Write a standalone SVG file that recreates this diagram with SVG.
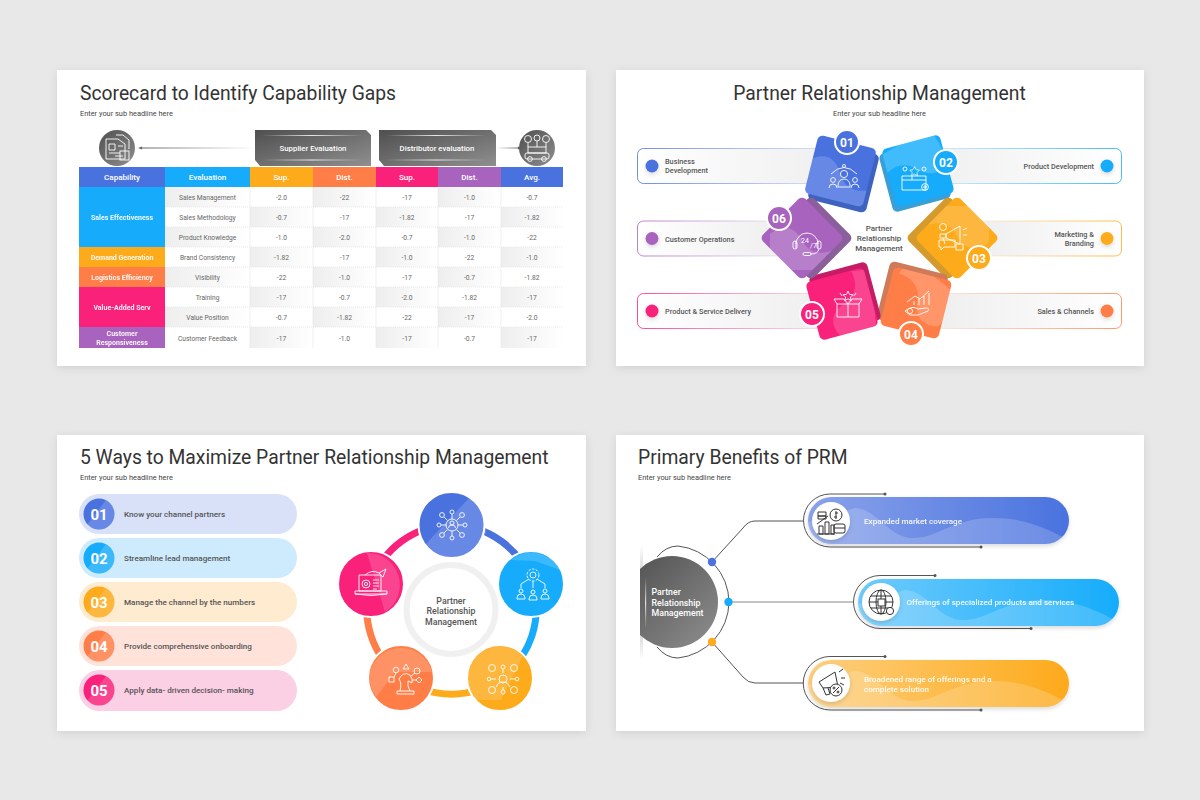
<svg xmlns="http://www.w3.org/2000/svg" width="1200" height="800" viewBox="0 0 1200 800">
<style>
text{font-family:Roboto,"Liberation Sans",sans-serif}
.title{font-size:19.300px;fill:#333}
.sub{font-size:7.400px;fill:#444}
.cell{font-size:6.650px;fill:#666;text-anchor:middle}
.th{font-size:8.100px;font-weight:500;fill:#fff;text-anchor:middle}
.cap{font-size:7.050px;font-weight:700;fill:#fff;text-anchor:middle;opacity:.92}
.lab{font-size:7.300px;font-weight:500;fill:#555}
.mid{font-size:8.800px;font-weight:500;fill:#555;text-anchor:middle}
.num{font-size:12px;font-weight:700;fill:#fff;text-anchor:middle}
.big{font-size:15px;font-weight:700;fill:#fff;text-anchor:middle}
.pl{font-size:8.100px;font-weight:500;fill:#555}
.bt{font-size:8.100px;font-weight:500;fill:#fff;opacity:.92}
.iw{fill:none;stroke:#fff;stroke-width:.9}
.id{fill:none;stroke:#333;stroke-width:1}
.frame{fill:none;stroke:#555;stroke-width:1}
.dotline{stroke:#ddd;stroke-width:.6;stroke-dasharray:1 1}
.wedge{fill:#fff;opacity:.16}
.face{x:-30px;y:-30px;width:60px;height:60px;rx:5px}
.bar{stroke-width:.8}
</style>
<defs>
<filter id="card" x="-5%" y="-5%" width="110%" height="112%"><feDropShadow dx="0" dy="2" stdDeviation="4" flood-color="#000" flood-opacity=".1"/></filter>
<filter id="soft" x="-40%" y="-40%" width="180%" height="190%"><feDropShadow dx="0" dy="2" stdDeviation="2" flood-color="#000" flood-opacity=".15"/></filter>
<linearGradient id="cg"><stop offset="0" stop-color="#eeeeee"/><stop offset="1" stop-color="#fff"/></linearGradient>
<linearGradient id="dark" x1="0" y1="0" x2="1" y2="1"><stop offset="0" stop-color="#4f4f4f"/><stop offset="1" stop-color="#8f8f8f"/></linearGradient>
<linearGradient id="shine"><stop offset="0" stop-color="#fff" stop-opacity="0"/><stop offset=".5" stop-color="#fff" stop-opacity=".85"/><stop offset="1" stop-color="#fff" stop-opacity="0"/></linearGradient>
<linearGradient id="shineV" x1="0" y1="0" x2="0" y2="1"><stop offset="0" stop-color="#fff" stop-opacity="0"/><stop offset=".5" stop-color="#fff" stop-opacity=".8"/><stop offset="1" stop-color="#fff" stop-opacity="0"/></linearGradient>
<linearGradient id="edgeV" x1="0" y1="0" x2="0" y2="1"><stop offset="0" stop-color="#aaa" stop-opacity="0"/><stop offset=".5" stop-color="#aaa"/><stop offset="1" stop-color="#aaa" stop-opacity="0"/></linearGradient>
<linearGradient id="arL"><stop offset="0" stop-color="#666"/><stop offset="1" stop-color="#666" stop-opacity="0"/></linearGradient>
<linearGradient id="arR"><stop offset="0" stop-color="#666" stop-opacity="0"/><stop offset="1" stop-color="#666"/></linearGradient>
<linearGradient id="fL"><stop offset="0" stop-color="#fff"/><stop offset="1" stop-color="#eeeeee"/></linearGradient>
<linearGradient id="fR"><stop offset="0" stop-color="#eeeeee"/><stop offset="1" stop-color="#fff"/></linearGradient>
<linearGradient id="sBlue"><stop offset="0" stop-color="#4a72df"/><stop offset="1" stop-color="#4a72df" stop-opacity=".12"/></linearGradient>
<linearGradient id="sPur"><stop offset="0" stop-color="#a863bf"/><stop offset="1" stop-color="#a863bf" stop-opacity=".12"/></linearGradient>
<linearGradient id="sPink"><stop offset="0" stop-color="#f9217a"/><stop offset="1" stop-color="#f9217a" stop-opacity=".12"/></linearGradient>
<linearGradient id="sSky" x1="1" x2="0"><stop offset="0" stop-color="#16acfb"/><stop offset="1" stop-color="#16acfb" stop-opacity=".12"/></linearGradient>
<linearGradient id="sAmb" x1="1" x2="0"><stop offset="0" stop-color="#fdaa1b"/><stop offset="1" stop-color="#fdaa1b" stop-opacity=".12"/></linearGradient>
<linearGradient id="sOr" x1="1" x2="0"><stop offset="0" stop-color="#ff7e47"/><stop offset="1" stop-color="#ff7e47" stop-opacity=".12"/></linearGradient>
<linearGradient id="pBlue"><stop offset="0" stop-color="#8aa3ea"/><stop offset="1" stop-color="#4a72df"/></linearGradient>
<linearGradient id="pSky"><stop offset="0" stop-color="#6fcbfc"/><stop offset="1" stop-color="#16acfb"/></linearGradient>
<linearGradient id="pAmb"><stop offset="0" stop-color="#fdcf7e"/><stop offset="1" stop-color="#fdaa1b"/></linearGradient>
<clipPath id="sq"><rect x="-30" y="-30" width="60" height="60" rx="5"/></clipPath>
<clipPath id="left"><rect x="640" y="540" width="120" height="125"/></clipPath>
<clipPath id="p1"><rect x="808" y="497" width="261" height="47" rx="23.500"/></clipPath>
<clipPath id="p2"><rect x="858" y="579" width="261" height="47" rx="23.500"/></clipPath>
<clipPath id="p3"><rect x="808" y="660" width="261" height="47" rx="23.500"/></clipPath>
<path id="blob" d="M-32 -4C-20 -14-8-12 0 2C6 14 18 18 32 12V32H-32Z"/>
<path id="wave" d="M47 11C70 12 80 41 105 41C130 41 145 21 185 21C215 21 235 30 255 40L261 47H0V25Z"/>
<g id="i1"><circle r="3.600" cy="-3"/><path d="M-6 8a6 6 0 0 1 12 0v2h-12zM-13 -3Q0 -16 13 -3"/><circle cx="-11" cy="3" r="2.400"/><circle cx="11" cy="3" r="2.400"/><path d="M-15 11a4 4 0 0 1 8 0M7 11a4 4 0 0 1 8 0"/><circle cy="-11" r="1.500"/></g>
<g id="i2"><path d="M-12 -1H12V13H-12ZM-12 3H12M-2 -1V3"/><path d="M-3 -13l2 4 4 .4-3 3 .8 4-3.800-2-3.800 2 .8-4-3-3 4-.4z" transform="translate(3 0) scale(.8)"/><circle cx="-9" cy="-8" r="2"/><circle cx="10" cy="-8" r="2"/><circle cx="11" cy="10" r="3.400"/><path d="M9 10h4M11 8v4"/></g>
<g id="i3"><path d="M-6 -3L8 -11V7L-6 1ZM-6 -3H-12V1H-6ZM-9 1L-7 7"/><circle cx="-9" cy="-10" r="3.500"/><path d="M-13 3H3V10H-8L-11 13V10H-13ZM4 7H11V13H4ZM11 -7L15 -9M11 -2H15"/></g>
<g id="i4"><path d="M-13 9Q-6 3 0 7L8 6Q12 6 10 9L0 13H-8ZM-11 0L-3 -6 2 -3 11 -11M-4 3V-1M1 3V-3M6 3V-6M11 3V-9"/><circle cx="-8" cy="9" r="2.600"/></g>
<g id="i5"><path d="M-11 -1H11V12H-11ZM-11 -1L-14 -6H-4L0 -1 4 -6H14L11 -1M0 -1V12"/><path d="M0 -14l1.500 3.400 3.600.3-2.700 2.400.8 3.600-3.200-1.900-3.200 1.900.8-3.600-2.700-2.400 3.600-.3zM-8 -12l2 3M8 -12l-2 3"/></g>
<g id="i6"><path d="M-11 2a11 11 0 0 1 22 0M-11 -1v7M11 -1v7"/><rect x="-14" y="-1" width="4" height="8" rx="2"/><rect x="10" y="-1" width="4" height="8" rx="2"/><path d="M12 7Q11 12 4 12"/><rect x="-4" y="10.500" width="8" height="3" rx="1.500"/><text x="-6" y="1" style="font-size:7px;fill:#fff;stroke:none">24</text><text x="3" y="6" style="font-size:7px;fill:#fff;stroke:none">/7</text></g>
<g id="n1"><circle r="6"/><circle cy="-2" r="2"/><path d="M-3.500 3a3.500 3 0 0 1 7 0"/><path d="M0 -6V-11M0 6V11M-6 0H-11M6 0H11M-4.500 -4.500L-8 -8M4.500 -4.500L8 -8M-4.500 4.500L-8 8M4.500 4.500L8 8"/><circle cy="-13" r="2"/><circle cy="13" r="2"/><circle cx="-13" r="2"/><circle cx="13" r="2"/><circle cx="-10" cy="-10" r="2.400"/><circle cx="10" cy="-10" r="2.400"/><circle cx="-10" cy="10" r="2.400"/><circle cx="10" cy="10" r="2.400"/></g>
<g id="n2"><circle cy="-10" r="3"/><circle cy="-10" r="6" stroke-dasharray="2.400 1.400"/><path d="M-4 -6L-12 -1V3M4 -6L12 -1V3M0 -4V3"/><circle cx="-12" cy="6" r="2"/><circle cy="7" r="2"/><circle cx="12" cy="6" r="2"/><path d="M-16 13a4 4 0 0 1 8 0v1h-8zM-4 14a4 4 0 0 1 8 0v1h-8zM8 13a4 4 0 0 1 8 0v1h-8z"/></g>
<g id="n3"><circle r="4"/><path d="M-6.500 8a6.500 5 0 0 1 13 0"/><circle cx="-11" cy="-11" r="3.500"/><circle cx="11" cy="-11" r="3.500"/><circle cx="-11" cy="11" r="3.500"/><circle cx="11" cy="11" r="3.500"/><circle cy="-12" r="2"/><circle cy="13" r="2"/><circle cx="-14" r="1.800"/><circle cx="14" r="1.800"/><path d="M0 -10V-6M0 8V11M-12 0H-7M7 0H12"/></g>
<g id="n4"><path d="M-9 14H8V11H-9ZM-6 11Q-4 3 -7 -1Q-3 -9 4 -5Q7 -1 6 3L2 1Q1 6 4 11"/><path d="M0 -16l3 5H-3Z"/><rect x="-17" y="-3" width="5" height="5"/><circle cx="-10" cy="-10" r="2.800"/><circle cx="11" cy="-9" r="3"/><path d="M13 -3l3 3-3 3-3-3zM-12 -3L-10 -7M9 -7L5 -4M10 0H6"/></g>
<g id="n5"><path d="M-13 -9H9V7H-13ZM-17 7H15V10H-17ZM-17 10Q-1 13 15 10"/><circle cx="-6" cy="0" r="4"/><circle cx="-6" cy="0" r="1.600"/><path d="M1 -4H7M1 -1H7M1 2H7M1 5H5M-7 -9Q0 -15 7 -11M7 -11L14 -15 11 -7Z"/></g>
<g id="d1"><path d="M-13 -9H-5V-5H-13ZM-13 -5H-5V-2H-13ZM-12 13V5H-8V13ZM-6 13V1H-2V13ZM0 13V4H3V13ZM-14 13H4M-14 3L-3 -5"/><circle cx="5" cy="-6" r="6"/><path d="M4 -8H7M3 -4H6M5 -10V-2"/><rect x="3" y="3" width="11" height="9" rx="2"/><path d="M3 7H14"/></g>
<g id="d2"><circle r="12"/><ellipse rx="5" ry="12"/><path d="M-12 0H12M-10 -6H10M-10 6H10M0 -12V12"/><rect x="-3" y="-3" width="7" height="7" fill="#fff"/><circle cx="9" cy="9" r="3.600" fill="#fff"/></g>
<g id="d3"><path d="M-12 -1L4 -11 7 4-8 5ZM-8 5L-5 12-1 11-3 5"/><path d="M8 -11L12 -14M10 -5H14M9 0L13 2"/><circle cx="5" cy="7" r="6" fill="#fff"/><path d="M2 10L8 4"/><circle cx="3" cy="5" r="1"/><circle cx="7" cy="9" r="1"/></g>
<g id="c1"><path d="M-11 -9H1L8 -4V11H-11ZM-8 -4H-2V2H-8ZM-8 5H3M1 -2H6M-2 8H6"/><path d="M-1 -13H6L12 -8V1"/><rect x="3" y="3" width="9" height="9"/></g>
<g id="c2"><circle cx="-9" cy="-9" r="3.500"/><circle cx="9" cy="-9" r="3.500"/><circle cy="-10" r="3"/><path d="M-9 -5V-1M9 -5V-1M0 -7V-1"/><rect x="-9" y="-1" width="18" height="6"/><rect x="-12" y="5" width="24" height="6" rx="2"/><circle cx="-7" cy="11" r="2.400"/><circle cx="7" cy="11" r="2.400"/></g>
</defs>
<rect width="1200" height="800" fill="#e9e8e9"/>

<g id="card1">
<rect x="57" y="70" width="529" height="296" fill="#fff" filter="url(#card)"/>
<text class="title" x="80" y="100">Scorecard to Identify Capability Gaps</text>
<text class="sub" x="80" y="116">Enter your sub headline here</text>
</g>
<g id="connectors-top">
<rect x="142" y="147.500" width="113" height="1" fill="url(#arL)"/><path d="M138 148l4-1.500v3z" fill="#666"/>
<rect x="496" y="147.500" width="23" height="1" fill="url(#arR)"/><path d="M522 148l-4-1.500v3z" fill="#555"/>
</g>
<g id="hd-left"><circle cx="117" cy="148" r="18" fill="url(#dark)"/><use href="#c1" x="117" y="148" class="iw"/></g>
<g id="hd-right"><circle cx="537" cy="148" r="18" fill="url(#dark)"/><use href="#c2" x="537" y="148" class="iw"/></g>
<g id="supplier"><path d="M255 130H366L371 135V166H260L255 160Z" fill="url(#dark)"/><rect x="262" y="135" width="100" height="1" fill="url(#shine)"/><rect x="262" y="159.500" width="100" height="1" fill="url(#shine)"/><text x="313" y="151" class="th" style="font-size:7.800px">Supplier Evaluation</text></g>
<g id="distributor"><path d="M379 130H491L496 135V166H384L379 160Z" fill="url(#dark)"/><rect x="386" y="135" width="100" height="1" fill="url(#shine)"/><rect x="386" y="159.500" width="100" height="1" fill="url(#shine)"/><text x="437" y="151" class="th" style="font-size:7.800px">Distributor evaluation</text></g>

<g id="table">
<rect x="79" y="167" width="86" height="20" fill="#4a72df"/><rect x="165" y="167" width="85" height="20" fill="#16acfb"/><rect x="250" y="167" width="63" height="20" fill="#fdaa1b"/><rect x="313" y="167" width="63" height="20" fill="#ff7e47"/><rect x="376" y="167" width="62" height="20" fill="#f9217a"/><rect x="438" y="167" width="63" height="20" fill="#a863bf"/><rect x="501" y="167" width="62" height="20" fill="#4a72df"/>
<text class="th" x="122" y="180">Capability</text><text class="th" x="207.500" y="180">Evaluation</text><text class="th" x="281.500" y="180">Sup.</text><text class="th" x="344.500" y="180">Dist.</text><text class="th" x="407" y="180">Sup.</text><text class="th" x="469.500" y="180">Dist.</text><text class="th" x="532" y="180">Avg.</text>
<g fill="url(#cg)">
<rect x="165" y="187" width="85" height="20"/><rect x="313" y="187" width="63" height="20"/><rect x="438" y="187" width="63" height="20"/>
<rect x="250" y="207" width="63" height="20"/><rect x="376" y="207" width="62" height="20"/><rect x="501" y="207" width="62" height="20"/>
<rect x="165" y="227" width="85" height="20"/><rect x="313" y="227" width="63" height="20"/><rect x="438" y="227" width="63" height="20"/>
<rect x="250" y="247" width="63" height="20"/><rect x="376" y="247" width="62" height="20"/><rect x="501" y="247" width="62" height="20"/>
<rect x="165" y="267" width="85" height="20"/><rect x="313" y="267" width="63" height="20"/><rect x="438" y="267" width="63" height="20"/>
<rect x="250" y="287" width="63" height="20"/><rect x="376" y="287" width="62" height="20"/><rect x="501" y="287" width="62" height="20"/>
<rect x="165" y="307" width="85" height="20"/><rect x="313" y="307" width="63" height="20"/><rect x="438" y="307" width="63" height="20"/>
<rect x="250" y="327" width="63" height="21"/><rect x="376" y="327" width="62" height="21"/><rect x="501" y="327" width="62" height="21"/>
</g>
<g class="dotline"><path d="M165 207H563M165 227H563M165 247H563M165 267H563M165 287H563M165 307H563M165 327H563"/></g>
<path d="M250 187V348M313 187V348M376 187V348M438 187V348M501 187V348" stroke="#e4e4e4" stroke-width=".6" fill="none"/>
<rect x="79" y="187" width="86" height="60" fill="#16acfb"/><rect x="79" y="247" width="86" height="20" fill="#fdaa1b"/><rect x="79" y="267" width="86" height="20" fill="#ff7e47"/><rect x="79" y="287" width="86" height="40" fill="#f9217a"/><rect x="79" y="327" width="86" height="21" fill="#a863bf"/>
<text class="cap" x="122" y="219.500">Sales Effectiveness</text><text class="cap" x="122" y="259.500">Demand Generation</text><text class="cap" x="122" y="279.500">Logistics Efficiency</text><text class="cap" x="122" y="309.500">Value-Added Serv</text><text class="cap" x="122" y="335.500">Customer</text><text class="cap" x="122" y="344.500">Responsiveness</text>
<g class="cell">
<text x="207.500" y="199.500">Sales Management</text><text x="281.500" y="199.500">-2.0</text><text x="344.500" y="199.500">-22</text><text x="407" y="199.500">-17</text><text x="469.500" y="199.500">-1.0</text><text x="532" y="199.500">-0.7</text>
<text x="207.500" y="219.500">Sales Methodology</text><text x="281.500" y="219.500">-0.7</text><text x="344.500" y="219.500">-17</text><text x="407" y="219.500">-1.82</text><text x="469.500" y="219.500">-17</text><text x="532" y="219.500">-1.82</text>
<text x="207.500" y="239.500">Product Knowledge</text><text x="281.500" y="239.500">-1.0</text><text x="344.500" y="239.500">-2.0</text><text x="407" y="239.500">-0.7</text><text x="469.500" y="239.500">-1.0</text><text x="532" y="239.500">-22</text>
<text x="207.500" y="259.500">Brand Consistency</text><text x="281.500" y="259.500">-1.82</text><text x="344.500" y="259.500">-17</text><text x="407" y="259.500">-1.0</text><text x="469.500" y="259.500">-22</text><text x="532" y="259.500">-1.0</text>
<text x="207.500" y="279.500">Visibility</text><text x="281.500" y="279.500">-22</text><text x="344.500" y="279.500">-1.0</text><text x="407" y="279.500">-17</text><text x="469.500" y="279.500">-0.7</text><text x="532" y="279.500">-1.82</text>
<text x="207.500" y="299.500">Training</text><text x="281.500" y="299.500">-17</text><text x="344.500" y="299.500">-0.7</text><text x="407" y="299.500">-2.0</text><text x="469.500" y="299.500">-1.82</text><text x="532" y="299.500">-17</text>
<text x="207.500" y="319.500">Value Position</text><text x="281.500" y="319.500">-0.7</text><text x="344.500" y="319.500">-1.82</text><text x="407" y="319.500">-22</text><text x="469.500" y="319.500">-17</text><text x="532" y="319.500">-2.0</text>
<text x="207.500" y="340.500">Customer Feedback</text><text x="281.500" y="340.500">-17</text><text x="344.500" y="340.500">-1.0</text><text x="407" y="340.500">-17</text><text x="469.500" y="340.500">-0.7</text><text x="532" y="340.500">-17</text>
</g>
</g>

<g id="card2">
<rect x="616" y="70" width="528" height="296" fill="#fff" filter="url(#card)"/>
<text class="title" x="879.500" y="100" text-anchor="middle">Partner Relationship Management</text>
<text class="sub" x="879.500" y="116" text-anchor="middle">Enter your sub headline here</text>
</g>
<g id="bars">
<g id="bar-business"><rect class="bar" x="637.500" y="148.500" width="210" height="35" rx="6" fill="url(#fL)" stroke="url(#sBlue)"/><circle cx="652" cy="166" r="6.500" fill="#4a72df" filter="url(#soft)"/><text class="lab" x="665" y="164">Business</text><text class="lab" x="665" y="173">Development</text></g>
<g id="bar-customer"><rect class="bar" x="637.500" y="221" width="150" height="35" rx="6" fill="url(#fL)" stroke="url(#sPur)"/><circle cx="652" cy="238.500" r="6.500" fill="#a863bf" filter="url(#soft)"/><text class="lab" x="665" y="241.500">Customer Operations</text></g>
<g id="bar-delivery"><rect class="bar" x="637.500" y="293.500" width="190" height="35" rx="6" fill="url(#fL)" stroke="url(#sPink)"/><circle cx="652" cy="311" r="6.500" fill="#f9217a" filter="url(#soft)"/><text class="lab" x="665" y="314">Product &amp; Service Delivery</text></g>
<g id="bar-product"><rect class="bar" x="912" y="148.500" width="209.500" height="35" rx="6" fill="url(#fR)" stroke="url(#sSky)"/><circle cx="1107" cy="166" r="6.500" fill="#16acfb" filter="url(#soft)"/><text class="lab" x="1094" y="169" text-anchor="end">Product Development</text></g>
<g id="bar-marketing"><rect class="bar" x="972" y="221" width="149.500" height="35" rx="6" fill="url(#fR)" stroke="url(#sAmb)"/><circle cx="1107" cy="238.500" r="6.500" fill="#fdaa1b" filter="url(#soft)"/><text class="lab" x="1094" y="237" text-anchor="end">Marketing &amp;</text><text class="lab" x="1094" y="246" text-anchor="end">Branding</text></g>
<g id="bar-sales"><rect class="bar" x="930" y="293.500" width="191.500" height="35" rx="6" fill="url(#fR)" stroke="url(#sOr)"/><circle cx="1107" cy="311" r="6.500" fill="#ff7e47" filter="url(#soft)"/><text class="lab" x="1094" y="314" text-anchor="end">Sales &amp; Channels</text></g>
</g>
<g id="sq01"><rect class="face" fill="#3e62c0" transform="translate(843.500,177) rotate(14)"/><g transform="translate(840.500,171) rotate(14)"><rect class="face" fill="#4a72df"/><g clip-path="url(#sq)"><use href="#blob" fill="#fff" opacity=".16"/></g></g><use href="#i1" x="844" y="177" class="iw"/><circle cx="847" cy="142" r="12" fill="#4a72df" stroke="#fff" stroke-width="2"/><text class="num" x="847" y="146.500">01</text></g>
<g id="sq02"><rect class="face" fill="#3a9fd6" transform="translate(915,176) rotate(-15)"/><g transform="translate(918,171) rotate(-15)"><rect class="face" fill="#16acfb"/><g clip-path="url(#sq)"><use href="#blob" fill="#fff" opacity=".18" transform="rotate(165)"/></g></g><use href="#i2" x="914" y="177" class="iw"/><circle cx="946" cy="162" r="12" fill="#16acfb" stroke="#fff" stroke-width="2"/><text class="num" x="946" y="166.500">02</text></g>
<g id="sq03"><rect class="face" fill="#d59a2e" transform="translate(948,238) rotate(45)"/><g transform="translate(957,238) rotate(45)"><rect class="face" fill="#fdaa1b"/><g clip-path="url(#sq)"><use href="#blob" fill="#fff" opacity=".16" transform="rotate(135)"/></g></g><use href="#i3" x="952" y="237" class="iw"/><circle cx="979" cy="258" r="12" fill="#fdaa1b" stroke="#fff" stroke-width="2"/><text class="num" x="979" y="262.500">03</text></g>
<g id="sq04"><rect class="face" fill="#cf7a58" transform="translate(912.500,297) rotate(14)"/><g transform="translate(916,303) rotate(14)"><rect class="face" fill="#ff7e47"/><g clip-path="url(#sq)"><use href="#blob" fill="#fff" opacity=".18" transform="rotate(205)"/></g></g><use href="#i4" x="918" y="302" class="iw"/><circle cx="911" cy="334" r="12" fill="#ff7e47" stroke="#fff" stroke-width="2"/><text class="num" x="911" y="338.500">04</text></g>
<g id="sq05"><rect class="face" fill="#c51c67" transform="translate(845,298) rotate(-15)"/><g transform="translate(842,304) rotate(-15)"><rect class="face" fill="#f9217a"/><g clip-path="url(#sq)"><use href="#blob" fill="#fff" opacity=".16" transform="rotate(-80)"/></g></g><use href="#i5" x="848" y="305" class="iw"/><circle cx="812" cy="314" r="12" fill="#f9217a" stroke="#fff" stroke-width="2"/><text class="num" x="812" y="318.500">05</text></g>
<g id="sq06"><rect class="face" fill="#8a5f9c" transform="translate(811,238) rotate(45)"/><g transform="translate(802,238) rotate(45)"><rect class="face" fill="#a863bf"/><g clip-path="url(#sq)"><use href="#blob" fill="#fff" opacity=".18" transform="rotate(-45)"/></g></g><use href="#i6" x="807" y="242" class="iw"/><circle cx="779" cy="218" r="12" fill="#a863bf" stroke="#fff" stroke-width="2"/><text class="num" x="779" y="222.500">06</text></g>
<g id="prm-center"><text class="mid" x="879" y="231" style="font-size:8px">Partner</text><text class="mid" x="879" y="241" style="font-size:8px">Relationship</text><text class="mid" x="879" y="251" style="font-size:8px">Management</text></g>

<g id="card3">
<rect x="57" y="435" width="529" height="296" fill="#fff" filter="url(#card)"/>
<text class="title" x="80" y="464">5 Ways to Maximize Partner Relationship Management</text>
<text class="sub" x="80" y="480">Enter your sub headline here</text>
</g>
<g id="way1"><rect x="79" y="494" width="218" height="40" rx="20" fill="#d9e1f8"/><circle cx="99" cy="514" r="15.500" fill="#4a72df"/><path d="M87 525L106 500A15.500 15.500 0 0 1 99 529.500A15.500 15.500 0 0 1 87 525Z" class="wedge"/><text class="big" x="99" y="519.500">01</text><text class="pl" x="124" y="517">Know your channel partners</text></g>
<g id="way2"><rect x="79" y="538" width="218" height="40" rx="20" fill="#ceebfe"/><circle cx="99" cy="558" r="15.500" fill="#16acfb"/><path d="M87 569L106 544A15.500 15.500 0 0 1 99 573.500A15.500 15.500 0 0 1 87 569Z" class="wedge"/><text class="big" x="99" y="563.500">02</text><text class="pl" x="124" y="561">Streamline lead management</text></g>
<g id="way3"><rect x="79" y="582" width="218" height="40" rx="20" fill="#feebd0"/><circle cx="99" cy="602" r="15.500" fill="#fdaa1b"/><path d="M87 613L106 588A15.500 15.500 0 0 1 99 617.500A15.500 15.500 0 0 1 87 613Z" class="wedge"/><text class="big" x="99" y="607.500">03</text><text class="pl" x="124" y="605">Manage the channel by the numbers</text></g>
<g id="way4"><rect x="79" y="626" width="218" height="40" rx="20" fill="#ffe3da"/><circle cx="99" cy="646" r="15.500" fill="#ff7e47"/><path d="M87 657L106 632A15.500 15.500 0 0 1 99 661.500A15.500 15.500 0 0 1 87 657Z" class="wedge"/><text class="big" x="99" y="651.500">04</text><text class="pl" x="124" y="649">Provide comprehensive onboarding</text></g>
<g id="way5"><rect x="79" y="670" width="218" height="41" rx="20.500" fill="#fbcfe4"/><circle cx="99" cy="690" r="15.500" fill="#f9217a"/><path d="M87 701L106 676A15.500 15.500 0 0 1 99 705.500A15.500 15.500 0 0 1 87 701Z" class="wedge"/><text class="big" x="99" y="695.500">05</text><text class="pl" x="124" y="693">Apply data- driven decision- making</text></g>
<g id="ring" fill="none" stroke-width="7">
<path d="M451.500 525A84.600 84.600 0 0 1 532 583.500" stroke="#4a72df"/>
<path d="M532 583.500A84.600 84.600 0 0 1 501.200 678" stroke="#16acfb"/>
<path d="M501.200 678A84.600 84.600 0 0 1 401.800 678" stroke="#fdaa1b"/>
<path d="M401.800 678A84.600 84.600 0 0 1 371 583.500" stroke="#ff7e47"/>
<path d="M371 583.500A84.600 84.600 0 0 1 451.500 525" stroke="#f9217a"/>
</g>
<g id="hub"><circle cx="451" cy="609.500" r="44.500" fill="#fff" stroke="#f0f0f0" stroke-width="6"/><text class="mid" x="451" y="603.500">Partner</text><text class="mid" x="451" y="614">Relationship</text><text class="mid" x="451" y="624.500">Management</text></g>
<g id="node-a"><circle cx="451.500" cy="525" r="33" fill="#4a72df" stroke="#fff" stroke-width="2"/><path d="M425 545L470 497A32 32 0 0 1 451.500 557A32 32 0 0 1 425 545Z" class="wedge"/><use href="#n1" x="452" y="525" class="iw"/></g>
<g id="node-b"><circle cx="531" cy="584" r="33" fill="#16acfb" stroke="#fff" stroke-width="2"/><path d="M511 560A32 32 0 0 1 560 570L535 561Z" class="wedge"/><use href="#n2" x="533" y="585" class="iw"/></g>
<g id="node-c"><circle cx="500" cy="678" r="33" fill="#fdaa1b" stroke="#fff" stroke-width="2"/><path d="M474 660A32 32 0 0 1 523 656L501 700 476 700A32 32 0 0 1 474 660Z" class="wedge"/><use href="#n3" x="503" y="679" class="iw"/></g>
<g id="node-d"><circle cx="401" cy="678" r="33" fill="#ff7e47" stroke="#fff" stroke-width="2"/><path d="M370 672A32 32 0 0 1 432 672L395 672 376 697A32 32 0 0 1 370 672Z" class="wedge"/><use href="#n4" x="406" y="680" class="iw"/></g>
<g id="node-e"><circle cx="371" cy="584" r="33" fill="#f9217a" stroke="#fff" stroke-width="2"/><path d="M367 553A32 32 0 0 1 385 612Z" class="wedge"/><use href="#n5" x="372" y="584" class="iw"/></g>

<g id="card4">
<rect x="616" y="435" width="528" height="296" fill="#fff" filter="url(#card)"/>
<text class="title" x="638" y="464">Primary Benefits of PRM</text>
<text class="sub" x="638" y="480">Enter your sub headline here</text>
</g>
<g id="connectors" fill="none">
<path d="M657 557Q666 546 678 546A57 57 0 0 1 729 602A57 57 0 0 1 678 658Q666 658 657 647" class="frame"/>
<path d="M712 562L743 528Q748 521 755 521H804" class="frame"/>
<path d="M729 602H854" stroke="#888" stroke-width="1.200"/>
<path d="M712 642L743 677Q748 683 755 683H804" class="frame"/>
<path d="M885 494H830A26.500 26.500 0 0 0 830 547H981" class="frame"/><circle cx="885" cy="494" r="1.500" fill="#555"/><circle cx="981" cy="547" r="1.500" fill="#555"/>
<path d="M935 575.500H880A26.500 26.500 0 0 0 880 628.500H1031" class="frame"/><circle cx="935" cy="575.500" r="1.500" fill="#555"/><circle cx="1031" cy="628.500" r="1.500" fill="#555"/>
<path d="M885 656.500H830A26.500 26.500 0 0 0 830 710H981" class="frame"/><circle cx="885" cy="656.500" r="1.500" fill="#555"/><circle cx="981" cy="710" r="1.500" fill="#555"/>
</g>
<g id="prm-node"><rect x="640" y="545" width="3" height="115" fill="url(#edgeV)"/><circle cx="672" cy="602" r="46" fill="url(#dark)" clip-path="url(#left)"/><rect x="645" y="577" width="1.200" height="52" fill="url(#shineV)"/><text class="mid" x="651.500" y="595" style="text-anchor:start;fill:#fff">Partner</text><text class="mid" x="651.500" y="605.500" style="text-anchor:start;fill:#fff">Relationship</text><text class="mid" x="651.500" y="616" style="text-anchor:start;fill:#fff">Management</text></g>
<g id="dots"><circle cx="712" cy="562" r="4.200" fill="#4a72df"/><circle cx="728.500" cy="602" r="4.200" fill="#16acfb"/><circle cx="712" cy="642" r="4.200" fill="#fdaa1b"/></g>
<g id="benefit1"><rect x="808" y="497" width="261" height="47" rx="23.500" fill="url(#pBlue)" filter="url(#soft)"/><g clip-path="url(#p1)"><use href="#wave" x="808" y="497" fill="#fff" opacity=".18"/></g><circle cx="831" cy="521" r="19" fill="#fff" filter="url(#soft)"/><use href="#d1" x="831" y="521" class="id"/><text class="bt" x="864" y="524">Expanded market coverage</text></g>
<g id="benefit2"><rect x="858" y="579" width="261" height="47" rx="23.500" fill="url(#pSky)" filter="url(#soft)"/><g clip-path="url(#p2)"><use href="#wave" x="858" y="579" fill="#fff" opacity=".18"/></g><circle cx="881" cy="602" r="19" fill="#fff" filter="url(#soft)"/><use href="#d2" x="881" y="602" class="id"/><text class="bt" x="906.500" y="605">Offerings of specialized products and services</text></g>
<g id="benefit3"><rect x="808" y="660" width="261" height="47" rx="23.500" fill="url(#pAmb)" filter="url(#soft)"/><g clip-path="url(#p3)"><use href="#wave" x="808" y="660" fill="#fff" opacity=".18"/></g><circle cx="831" cy="683" r="19" fill="#fff" filter="url(#soft)"/><use href="#d3" x="831" y="683" class="id"/><text class="bt" x="864" y="682">Broadened range of offerings and a</text><text class="bt" x="864" y="691.500">complete solution</text></g>
</svg>
